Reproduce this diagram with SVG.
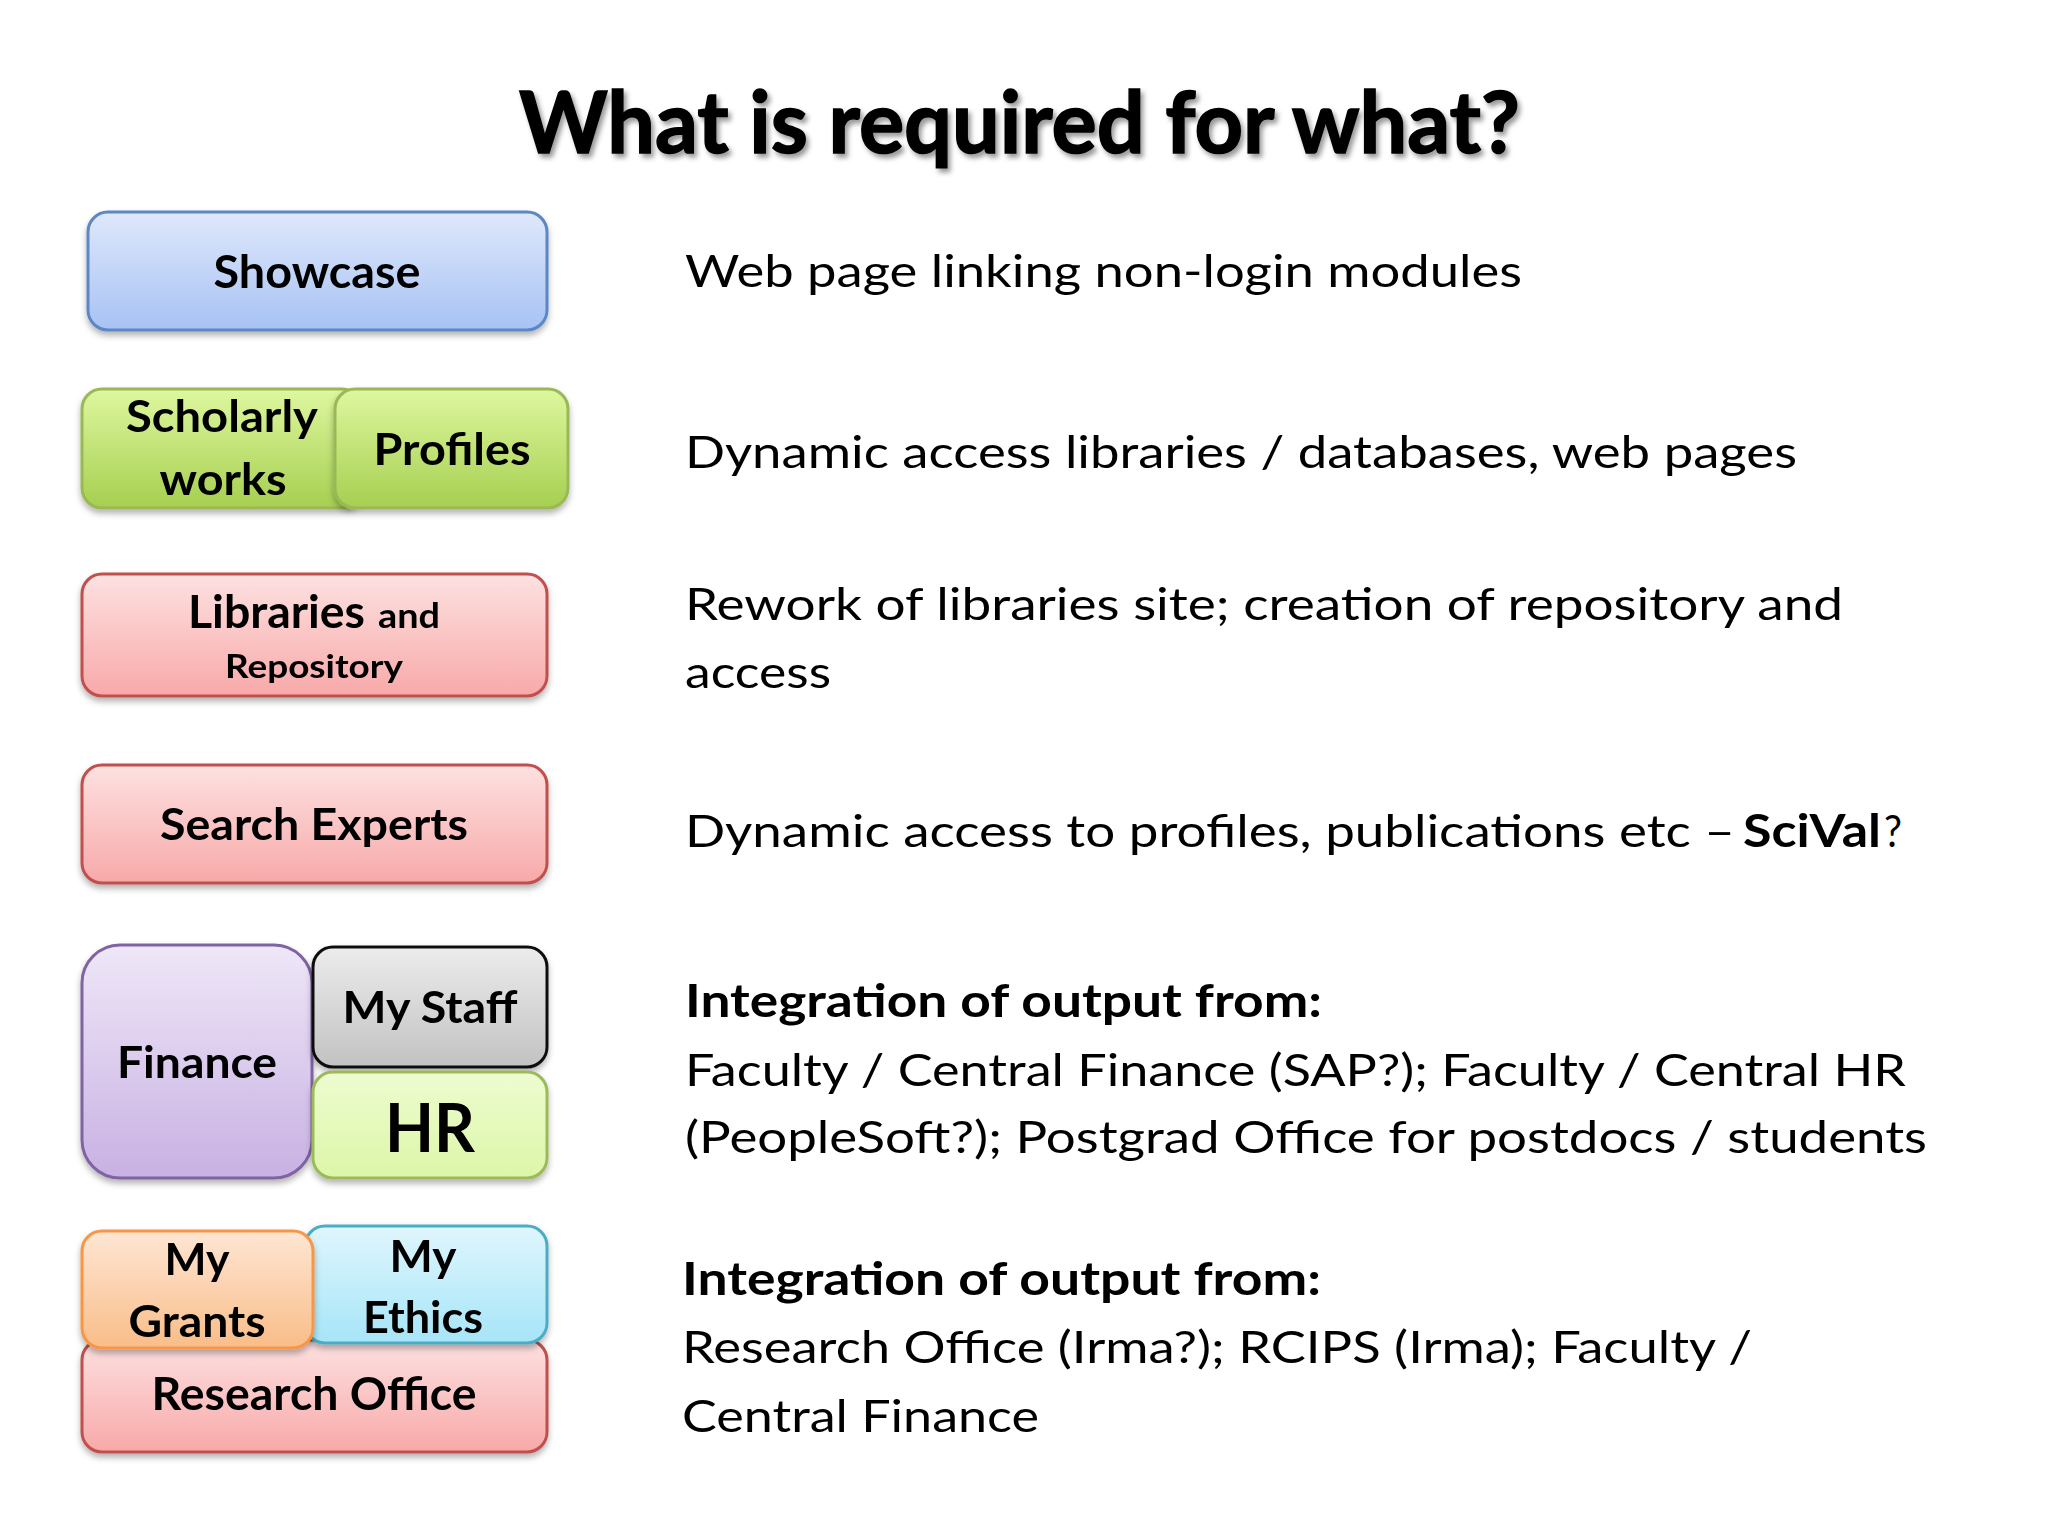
<svg xmlns="http://www.w3.org/2000/svg" width="2048" height="1536" viewBox="0 0 2048 1536">
<defs>
<linearGradient id="gBlue" x1="0" y1="0" x2="0" y2="1"><stop offset="0" stop-color="#dfe8fb"/><stop offset="1" stop-color="#a7c2f4"/></linearGradient>
<linearGradient id="gGreen" x1="0" y1="0" x2="0" y2="1"><stop offset="0" stop-color="#def79f"/><stop offset="1" stop-color="#a6cf50"/></linearGradient>
<linearGradient id="gRed" x1="0" y1="0" x2="0" y2="1"><stop offset="0" stop-color="#fde1e1"/><stop offset="1" stop-color="#f8a9a9"/></linearGradient>
<linearGradient id="gPurple" x1="0" y1="0" x2="0" y2="1"><stop offset="0" stop-color="#efe7f8"/><stop offset="1" stop-color="#c8b1e3"/></linearGradient>
<linearGradient id="gGray" x1="0" y1="0" x2="0" y2="1"><stop offset="0" stop-color="#ececec"/><stop offset="1" stop-color="#c2c2c2"/></linearGradient>
<linearGradient id="gPale" x1="0" y1="0" x2="0" y2="1"><stop offset="0" stop-color="#eefcd0"/><stop offset="1" stop-color="#dcf6a8"/></linearGradient>
<linearGradient id="gOrange" x1="0" y1="0" x2="0" y2="1"><stop offset="0" stop-color="#fee6d4"/><stop offset="1" stop-color="#f9bd88"/></linearGradient>
<linearGradient id="gCyan" x1="0" y1="0" x2="0" y2="1"><stop offset="0" stop-color="#e0f6fd"/><stop offset="1" stop-color="#a6e5f8"/></linearGradient>
<filter id="shadow" x="-10%" y="-10%" width="120%" height="130%"><feDropShadow dx="0" dy="4" stdDeviation="3" flood-color="#000" flood-opacity="0.3"/></filter>
<filter id="tshadow" x="-5%" y="-20%" width="110%" height="150%"><feDropShadow dx="3" dy="4" stdDeviation="2.5" flood-color="#000" flood-opacity="0.4"/></filter>
</defs>
<style>
text{font-family:Lato,"Open Sans","Liberation Sans",sans-serif;fill:#000}
.b{font-weight:700}
.lbl{font-weight:700;text-anchor:middle}
.box{stroke-width:3}
.blue{fill:url(#gBlue);stroke:#5b86c4}
.green{fill:url(#gGreen);stroke:#98b954}
.red{fill:url(#gRed);stroke:#c0504d}
.purple{fill:url(#gPurple);stroke:#8064a2}
.gray{fill:url(#gGray);stroke:#111}
.pale{fill:url(#gPale);stroke:#9bbb59}
.orange{fill:url(#gOrange);stroke:#f79646}
.cyan{fill:url(#gCyan);stroke:#4bacc6}
</style>
<rect width="2048" height="1536" fill="#fff"/>
<text id="title" class="b" x="519" y="153" font-size="86" textLength="1001" lengthAdjust="spacingAndGlyphs" filter="url(#tshadow)" stroke="#000" stroke-width="1.5">What is required for what?</text>

<g id="showcase" filter="url(#shadow)">
<rect class="box blue" x="88" y="212" width="459" height="118" rx="20"/>
<text class="lbl" x="317" y="288" font-size="46" textLength="207" lengthAdjust="spacingAndGlyphs">Showcase</text>
</g>

<g id="scholarly-works" filter="url(#shadow)">
<rect class="box green" x="82" y="389" width="280" height="119" rx="20"/>
<text class="lbl" x="222" y="432" font-size="44" textLength="192" lengthAdjust="spacingAndGlyphs">Scholarly</text>
<text class="lbl" x="223" y="495" font-size="44" textLength="127" lengthAdjust="spacingAndGlyphs">works</text>
</g>
<g id="profiles" filter="url(#shadow)">
<rect class="box green" x="335" y="389" width="233" height="119" rx="20"/>
<text class="lbl" x="452" y="465" font-size="44" textLength="157" lengthAdjust="spacingAndGlyphs">Profiles</text>
</g>

<g id="libraries" filter="url(#shadow)">
<rect class="box red" x="82" y="574" width="465" height="122" rx="20"/>
<text class="b" x="188" y="628" font-size="46" textLength="177" lengthAdjust="spacingAndGlyphs">Libraries</text>
<text class="b" x="378" y="628" font-size="34" textLength="62" lengthAdjust="spacingAndGlyphs">and</text>
<text class="lbl" x="314" y="678" font-size="33" textLength="178" lengthAdjust="spacingAndGlyphs">Repository</text>
</g>

<g id="search-experts" filter="url(#shadow)">
<rect class="box red" x="82" y="765" width="465" height="118" rx="20"/>
<text class="lbl" x="314" y="840" font-size="44" textLength="308" lengthAdjust="spacingAndGlyphs">Search Experts</text>
</g>

<g id="finance" filter="url(#shadow)">
<rect class="box purple" x="82" y="945" width="230" height="233" rx="38"/>
<text class="lbl" x="197" y="1078" font-size="43" textLength="160" lengthAdjust="spacingAndGlyphs">Finance</text>
</g>
<g id="my-staff" filter="url(#shadow)">
<rect class="box gray" x="313" y="947" width="234" height="120" rx="20"/>
<text class="lbl" x="430" y="1023" font-size="43" textLength="175" lengthAdjust="spacingAndGlyphs">My Staff</text>
</g>
<g id="hr" filter="url(#shadow)">
<rect class="box pale" x="313" y="1072" width="234" height="106" rx="20"/>
<text class="lbl" x="430" y="1152" font-size="67" textLength="90" lengthAdjust="spacingAndGlyphs">HR</text>
</g>

<g id="research-office" filter="url(#shadow)">
<rect class="box red" x="82" y="1340" width="465" height="112" rx="20"/>
<text class="lbl" x="314" y="1410" font-size="46" textLength="325" lengthAdjust="spacingAndGlyphs">Research Office</text>
</g>
<g id="my-ethics" filter="url(#shadow)">
<rect class="box cyan" x="305" y="1226" width="242" height="117" rx="20"/>
<text class="lbl" x="423" y="1272" font-size="43" textLength="67" lengthAdjust="spacingAndGlyphs">My</text>
<text class="lbl" x="423" y="1333" font-size="43" textLength="120" lengthAdjust="spacingAndGlyphs">Ethics</text>
</g>
<g id="my-grants" filter="url(#shadow)">
<rect class="box orange" x="82" y="1231" width="231" height="117" rx="20"/>
<text class="lbl" x="197" y="1275" font-size="43" textLength="65" lengthAdjust="spacingAndGlyphs">My</text>
<text class="lbl" x="197" y="1337" font-size="43" textLength="137" lengthAdjust="spacingAndGlyphs">Grants</text>
</g>

<g id="descriptions" font-size="45">
<text x="685" y="287" textLength="837" lengthAdjust="spacingAndGlyphs">Web page linking non-login modules</text>
<text x="685" y="468" textLength="1112" lengthAdjust="spacingAndGlyphs">Dynamic access libraries / databases, web pages</text>
<text x="685" y="620" textLength="1158" lengthAdjust="spacingAndGlyphs">Rework of libraries site; creation of repository and</text>
<text x="685" y="688" textLength="146" lengthAdjust="spacingAndGlyphs">access</text>
<text x="685" y="847" textLength="1050" lengthAdjust="spacingAndGlyphs">Dynamic access to profiles, publications etc –</text>
<text class="b" x="1743" y="847" textLength="138" lengthAdjust="spacingAndGlyphs">SciVal</text>
<text x="1884" y="847" textLength="18" lengthAdjust="spacingAndGlyphs">?</text>
<text class="b" x="685" y="1017" textLength="637" lengthAdjust="spacingAndGlyphs">Integration of output from:</text>
<text x="685" y="1086" textLength="1221" lengthAdjust="spacingAndGlyphs">Faculty / Central Finance (SAP?); Faculty / Central HR</text>
<text x="685" y="1153" textLength="1242" lengthAdjust="spacingAndGlyphs">(PeopleSoft?); Postgrad Office for postdocs / students</text>
<text class="b" x="682" y="1295" textLength="639" lengthAdjust="spacingAndGlyphs">Integration of output from:</text>
<text x="682" y="1363" textLength="1070" lengthAdjust="spacingAndGlyphs">Research Office (Irma?); RCIPS (Irma); Faculty /</text>
<text x="682" y="1432" textLength="357" lengthAdjust="spacingAndGlyphs">Central Finance</text>
</g>
</svg>
